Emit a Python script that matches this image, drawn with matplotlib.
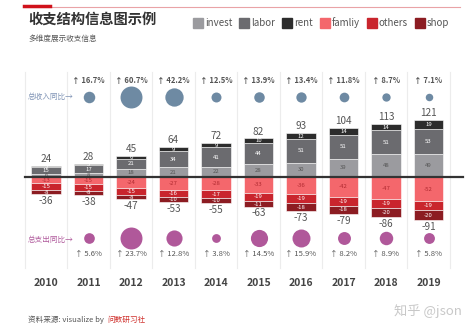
import numpy as np
import matplotlib.pyplot as plt
from matplotlib.lines import Line2D

plt.rcParams['font.family'] = ['Noto Sans CJK SC', 'DejaVu Sans']

years = [2010, 2011, 2012, 2013, 2014, 2015, 2016, 2017, 2018, 2019]
invest = [6, 8, 18, 21, 22, 28, 30, 39, 48, 49]
labor = [15, 17, 21, 34, 41, 44, 51, 51, 51, 53]
rent = [3, 3, 6, 9, 9, 10, 12, 14, 14, 19]
famliy = [-13, -15, -24, -27, -28, -33, -36, -42, -47, -52]
others = [-15, -15, -15, -16, -17, -19, -19, -19, -19, -19]
shop = [-8, -8, -8, -10, -10, -11, -18, -18, -20, -20]
income_growth = [None, 16.7, 60.7, 42.2, 12.5, 13.9, 13.4, 11.8, 8.7, 7.1]
expense_growth = [None, 5.6, 23.7, 12.8, 3.8, 14.5, 15.9, 8.2, 8.9, 5.8]

pos_series = [('invest', invest, '#9b9b9f', '#555555'),
              ('labor', labor, '#6b6b6f', 'white'),
              ('rent', rent, '#2c2c2c', 'white')]
neg_series = [('famliy', famliy, '#f4676c', '#b02a30'),
              ('others', others, '#c9252d', 'white'),
              ('shop', shop, '#8c1c22', 'white')]

W, H = 474, 332
fig = plt.figure(figsize=(W / 100, H / 100), dpi=100)
ax = fig.add_axes([0, 0, 1, 1])

# pixel mapping: column centre = 46 + 42.5*i, baseline at 177 px, 0.47 px per unit
x0, dx = 46, 42.5
base, k = 177, 0.47
ax.set_xlim(-x0 / dx, (W - x0) / dx)
ax.set_ylim((base - H) / k, base / k)
ax.axis('off')


def py(px):
    return (base - px) / k


x = np.arange(len(years))

# column separators
for i in range(len(years) + 1):
    ax.plot([i - 0.5, i - 0.5], [py(72), py(268)], color='#ececec', lw=0.8, zorder=0)

bw = 0.7
bottom = np.zeros(len(years))
for name, vals, col, tcol in pos_series:
    v = np.array(vals)
    ax.bar(x, v, bw, bottom=bottom, color=col, edgecolor='white', lw=0.4, zorder=2)
    for xi, b, val in zip(x, bottom, v):
        ax.text(xi, b + val / 2, str(val), ha='center', va='center', fontsize=4.3, color=tcol, zorder=3)
    bottom += v
tot_pos = bottom.copy()

bottom = np.zeros(len(years))
for name, vals, col, tcol in neg_series:
    v = np.array(vals)
    ax.bar(x, v, bw, bottom=bottom, color=col, edgecolor='white', lw=0.4, zorder=2)
    for xi, b, val in zip(x, bottom, v):
        ax.text(xi, b + val / 2, str(val), ha='center', va='center', fontsize=4.3, color=tcol, zorder=3)
    bottom += v
tot_neg = bottom.copy()

for xi, tp, tn in zip(x, tot_pos, tot_neg):
    ax.text(xi, tp + 4, '%d' % tp, ha='center', va='bottom', fontsize=7.2, color='#555555')
    ax.text(xi, tn - 4, '%d' % tn, ha='center', va='top', fontsize=7.2, color='#555555')

ax.plot([-0.5, 9.8], [0, 0], color='#333333', lw=1.6, zorder=4)

# growth bubbles
imax = max(g for g in income_growth if g)
emax = max(g for g in expense_growth if g)
for xi, gi, ge in zip(x, income_growth, expense_growth):
    if gi is None:
        continue
    ax.scatter(xi, py(97), s=250 * gi / imax, color='#6e8aa3', lw=0, zorder=3)
    ax.scatter(xi, py(238), s=250 * ge / emax, color='#b0589a', lw=0, zorder=3)
    ax.text(xi, py(80), '↑ %.1f%%' % gi, ha='center', va='center', fontsize=5.5,
            color='#555555', fontweight='bold')
    ax.text(xi, py(254), '↑ %.1f%%' % ge, ha='center', va='center', fontsize=5.5, color='#555555')

ax.text((28 - x0) / dx, py(97), '总收入同比→', ha='left', va='center',
        fontsize=5.5, color='#7f93b5')
ax.text((28 - x0) / dx, py(240), '总支出同比→', ha='left', va='center',
        fontsize=5.5, color='#b05a9c')

for xi, yr in zip(x, years):
    ax.text(xi, py(283), str(yr), ha='center', va='center', fontsize=7.5,
            fontweight='bold', color='#444444')

# header
fig.add_artist(Line2D([24 / W, 460 / W], [1 - 7 / H] * 2, color='#e9a3a6', lw=0.8))
fig.add_artist(Line2D([24 / W, 50 / W], [1 - 6 / H] * 2, color='#d0121b', lw=2.5))
fig.text(28 / W, 1 - 20 / H, '收支结构信息图示例', fontsize=10.3, fontweight='bold',
         color='#333333', va='center')
fig.text(28 / W, 1 - 39 / H, '多维度展示收支信息', fontsize=5.5, color='#555555', va='center')

handles = [Line2D([], [], marker='s', ls='', markersize=6.5, color=c)
           for _, _, c, _ in pos_series + neg_series]
labels = [n for n, _, _, _ in pos_series + neg_series]
fig.legend(handles, labels, ncol=6, loc='center right', bbox_to_anchor=(458 / W, 1 - 23 / H),
           frameon=False, fontsize=7, handletextpad=0.2, columnspacing=0.75,
           handlelength=1.0, labelcolor='#555555')

# footer
fig.text(28 / W, 1 - 320 / H, '资料来源: visualize by ', fontsize=5.5, color='#555555', va='center')
fig.text(107 / W, 1 - 320 / H, '问数研习社', fontsize=5.5, color='#d0312d', va='center')
fig.text(462 / W, 1 - 311 / H, '知乎 @json', fontsize=9.5, color='#c8c8c8', va='center', ha='right')

fig.savefig('out.png', dpi=100, facecolor='white')
